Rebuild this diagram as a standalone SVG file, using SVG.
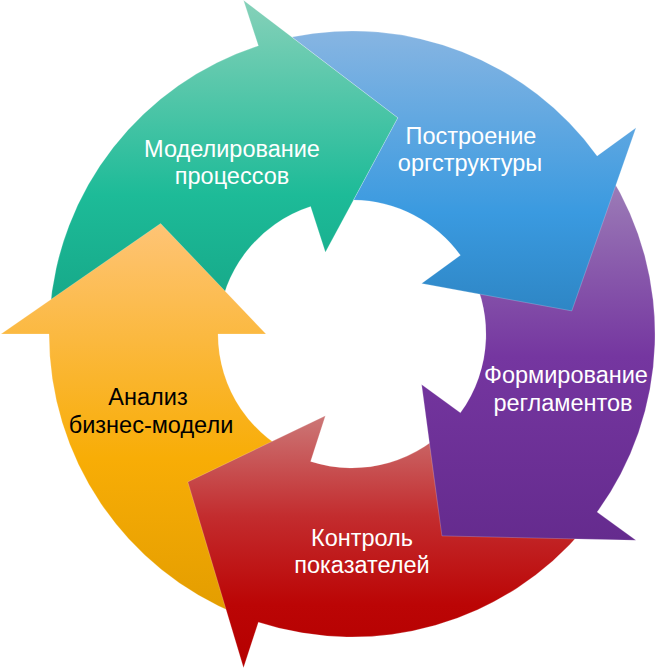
<svg xmlns="http://www.w3.org/2000/svg" width="657" height="669" viewBox="0 0 657 669">
<defs>
<linearGradient id="gGreen" x1="0" y1="0" x2="0" y2="1">
<stop offset="0" stop-color="#86d1b9"/><stop offset="0.6" stop-color="#1dbb98"/><stop offset="1" stop-color="#15a586"/>
</linearGradient>
<linearGradient id="gBlue" x1="0" y1="0" x2="0" y2="1">
<stop offset="0" stop-color="#87b5e2"/><stop offset="0.65" stop-color="#3a9ae0"/><stop offset="1" stop-color="#2e86c5"/>
</linearGradient>
<linearGradient id="gPurple" x1="0" y1="0" x2="0" y2="1">
<stop offset="0" stop-color="#9e80b8"/><stop offset="0.5" stop-color="#7536a0"/><stop offset="1" stop-color="#652b8e"/>
</linearGradient>
<linearGradient id="gRed" x1="0" y1="0" x2="0" y2="1">
<stop offset="0" stop-color="#cc7777"/><stop offset="0.4" stop-color="#c32c2e"/><stop offset="0.75" stop-color="#bb0505"/><stop offset="1" stop-color="#b50000"/>
</linearGradient>
<linearGradient id="gYellow" x1="0" y1="0" x2="0" y2="1">
<stop offset="0" stop-color="#fec476"/><stop offset="0.6" stop-color="#f8ad06"/><stop offset="1" stop-color="#e39d00"/>
</linearGradient>
</defs>
<style>
.lbl{font-family:"Liberation Sans",Arial,sans-serif;font-size:23.5px;text-anchor:middle}
.w{fill:#ffffff}
.k{fill:#000000}
.arr{stroke:#ffffff;stroke-opacity:0.35;stroke-width:0.6}
</style>
<g id="connectors"></g>
<g id="node-modelirovanie">
<path class="arr" fill="url(#gGreen)" d="M49.7,312.9 A303,303 0 0 1 258.4,45.8 L243.5,0.2 L397.9,117.8 L325.4,252.2 L310.6,206.6 A134,134 0 0 0 218.3,324.7 Z"/>
<text class="lbl w" x="232" y="157">Моделирование</text>
<text class="lbl w" x="232" y="184">процессов</text>
</g>
<g id="node-analiz">
<path class="arr" fill="url(#gYellow)" d="M238.5,614.9 A303,303 0 0 1 49,334 L1,334 L160.6,223.5 L266,334 L218,334 A134,134 0 0 0 301.8,458.2 Z"/>
<text class="lbl k" x="148" y="405">Анализ</text>
<text class="lbl k" x="151" y="433">бизнес-модели</text>
</g>
<g id="node-kontrol">
<path class="arr" fill="url(#gRed)" d="M584.1,528.8 A303,303 0 0 1 258.4,622.2 L243.5,667.8 L187.8,481.9 L325.4,415.8 L310.6,461.4 A134,134 0 0 0 454.6,420.1 Z"/>
<text class="lbl w" x="362" y="546">Контроль</text>
<text class="lbl w" x="362" y="573">показателей</text>
</g>
<g id="node-formirovanie">
<path class="arr" fill="url(#gPurple)" d="M609.0,173.4 A303,303 0 0 1 597.1,512.1 L636.0,540.3 L441.9,535.9 L421.6,384.5 L460.4,412.8 A134,134 0 0 0 465.6,263.0 Z"/>
<text class="lbl w" x="566" y="383">Формирование</text>
<text class="lbl w" x="563" y="411">регламентов</text>
</g>
<g id="node-postroenie">
<path class="arr" fill="url(#gBlue)" d="M291.9,37.0 A303,303 0 0 1 597.1,155.9 L636.0,127.7 L571.8,310.9 L421.6,283.5 L460.4,255.2 A134,134 0 0 0 353.6,200.0 L397.9,117.8 Z"/>
<text class="lbl w" x="471" y="144">Построение</text>
<text class="lbl w" x="470" y="171">оргструктуры</text>
</g>
</svg>
